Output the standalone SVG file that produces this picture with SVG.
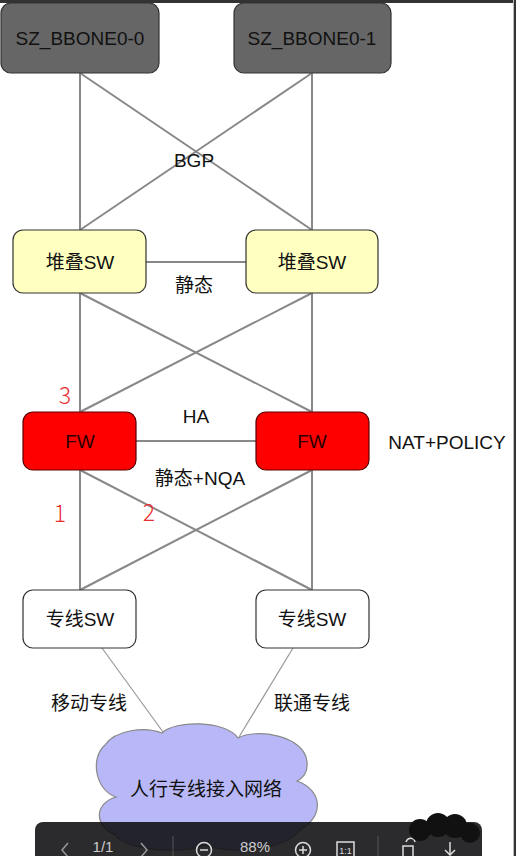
<svg xmlns="http://www.w3.org/2000/svg" width="516" height="856" viewBox="0 0 516 856">
<style>
.t{font-family:"Liberation Sans","Noto Sans CJK SC",sans-serif;font-size:19px;fill:#111;text-anchor:middle;dominant-baseline:central}
.n{fill:none;stroke:#888;stroke-width:2}
.thin{fill:none;stroke:#999;stroke-width:1.2}
.node{stroke:#333;stroke-width:1.2}
.red{font-family:"Noto Sans CJK SC","Liberation Sans",sans-serif;font-size:23px;fill:#e83030;text-anchor:middle;dominant-baseline:central;font-weight:300}
.tb{font-family:"Liberation Sans",sans-serif;font-size:15px;fill:#ccc;text-anchor:middle}
</style>
<rect x="0" y="0" width="516" height="856" fill="#ffffff"/>
<rect x="0" y="0" width="516" height="3" fill="#333"/>
<rect x="513" y="0" width="1" height="856" fill="#bbb"/>
<rect x="514" y="0" width="2" height="856" fill="#333"/>

<g id="connectors">
  <line class="n" x1="80" y1="73" x2="80" y2="230"/>
  <line class="n" x1="80" y1="73" x2="312" y2="230"/>
  <line class="n" x1="312" y1="73" x2="80" y2="230"/>
  <line class="n" x1="312" y1="73" x2="312" y2="230"/>
  <line class="n" x1="146" y1="262" x2="246" y2="262"/>
  <line class="n" x1="80" y1="293" x2="80" y2="412"/>
  <line class="n" x1="80" y1="293" x2="312" y2="412"/>
  <line class="n" x1="312" y1="293" x2="80" y2="412"/>
  <line class="n" x1="312" y1="293" x2="312" y2="412"/>
  <line class="n" x1="136" y1="441" x2="256" y2="441"/>
  <line class="n" x1="80" y1="470" x2="80" y2="590"/>
  <line class="n" x1="80" y1="470" x2="312" y2="590"/>
  <line class="n" x1="312" y1="470" x2="80" y2="590"/>
  <line class="n" x1="312" y1="470" x2="312" y2="590"/>
  <line class="thin" x1="102" y1="648" x2="163" y2="732"/>
  <line class="thin" x1="293" y1="648" x2="239" y2="737"/>
</g>

<g id="bbone0">
  <rect class="node" x="1" y="3" width="158" height="70" rx="10" fill="#666"/>
  <text class="t" x="80" y="38">SZ_BBONE0-0</text>
</g>
<g id="bbone1">
  <rect class="node" x="234" y="3" width="157" height="70" rx="10" fill="#666"/>
  <text class="t" x="312" y="38">SZ_BBONE0-1</text>
</g>
<g id="stack1">
  <rect class="node" x="13" y="230" width="133" height="63" rx="10" fill="#ffffc0"/>
  <text class="t" x="80" y="262">堆叠SW</text>
</g>
<g id="stack2">
  <rect class="node" x="246" y="230" width="132" height="63" rx="10" fill="#ffffc0"/>
  <text class="t" x="312" y="262">堆叠SW</text>
</g>
<g id="fw1">
  <rect x="23" y="412" width="113" height="58" rx="10" fill="#ff0000" stroke="#5a0000" stroke-width="1.2"/>
  <text class="t" x="80" y="441" style="fill:#2a0000">FW</text>
</g>
<g id="fw2">
  <rect x="256" y="412" width="113" height="58" rx="10" fill="#ff0000" stroke="#5a0000" stroke-width="1.2"/>
  <text class="t" x="312" y="441" style="fill:#2a0000">FW</text>
</g>
<g id="line1">
  <rect class="node" x="23" y="590" width="113" height="58" rx="10" fill="#ffffff"/>
  <text class="t" x="80" y="619">专线SW</text>
</g>
<g id="line2">
  <rect class="node" x="256" y="590" width="113" height="58" rx="10" fill="#ffffff"/>
  <text class="t" x="312" y="619">专线SW</text>
</g>
<g id="cloud">
  <path d="M162 733 C175 720 225 720 238 738 C255 728 305 735 307 762 C308 772 303 778 297 781 C322 790 325 815 300 830 C285 850 230 855 205 845 C180 855 125 850 115 835 C93 825 95 803 116 797 C95 790 90 758 105 745 C115 730 145 726 162 733 Z" fill="#b8b8f8" stroke="#888" stroke-width="1.2"/>
  <text class="t" x="206" y="789">人行专线接入网络</text>
</g>

<g id="labels">
  <text class="t" x="194" y="160">BGP</text>
  <text class="t" x="194" y="285">静态</text>
  <text class="t" x="196" y="416">HA</text>
  <text class="t" x="200" y="478">静态+NQA</text>
  <text class="t" x="447" y="442">NAT+POLICY</text>
  <text class="t" x="89" y="703">移动专线</text>
  <text class="t" x="312" y="703">联通专线</text>
  <text class="red" x="65" y="394">3</text>
  <text class="red" x="60" y="512">1</text>
  <text class="red" x="149" y="511">2</text>
</g>

<g id="toolbar">
  <rect x="35" y="822" width="447" height="50" rx="8" fill="#0e0e10" fill-opacity="0.88"/>
  <path d="M68 843 L62 850 L68 857" fill="none" stroke="#999" stroke-width="1.5"/>
  <text class="tb" x="103" y="852">1/1</text>
  <path d="M141 843 L147 850 L141 857" fill="none" stroke="#999" stroke-width="1.5"/>
  <line x1="173" y1="836" x2="173" y2="856" stroke="#555" stroke-width="1"/>
  <circle cx="204" cy="850" r="7.5" fill="none" stroke="#ddd" stroke-width="1.5"/>
  <line x1="200" y1="850" x2="208" y2="850" stroke="#ddd" stroke-width="1.5"/>
  <text class="tb" x="255" y="852">88%</text>
  <circle cx="303" cy="850" r="7.5" fill="none" stroke="#ddd" stroke-width="1.5"/>
  <line x1="299" y1="850" x2="307" y2="850" stroke="#ddd" stroke-width="1.5"/>
  <line x1="303" y1="846" x2="303" y2="854" stroke="#ddd" stroke-width="1.5"/>
  <rect x="337" y="842" width="17" height="16" fill="none" stroke="#ddd" stroke-width="1.5"/>
  <text x="345.5" y="854" font-family="Liberation Sans,sans-serif" font-size="9" fill="#ddd" text-anchor="middle">1:1</text>
  <line x1="378" y1="836" x2="378" y2="856" stroke="#555" stroke-width="1"/>
  <path d="M403 856 L403 846 L413 846 L413 856" fill="none" stroke="#ddd" stroke-width="1.5"/>
  <path d="M406 842 C408 837 414 837 415 842" fill="none" stroke="#ddd" stroke-width="1.5"/>
  <line x1="450" y1="842" x2="450" y2="855" stroke="#ddd" stroke-width="1.5"/>
  <path d="M445 850 L450 855 L455 850" fill="none" stroke="#ddd" stroke-width="1.5"/>
  <g fill="#111">
    <circle cx="420" cy="830" r="11"/>
    <circle cx="438" cy="825" r="12"/>
    <circle cx="455" cy="826" r="12"/>
    <circle cx="470" cy="833" r="10"/>
  </g>
</g>
</svg>
